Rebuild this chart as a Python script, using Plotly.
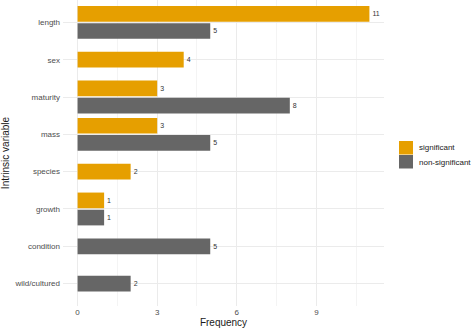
import plotly.graph_objects as go

categories = ["length", "sex", "maturity", "mass", "species", "growth", "condition", "wild/cultured"]
sig_values = [11, 4, 3, 3, 2, 1, None, None]
nonsig_values = [5, None, 8, 5, None, 1, 5, 2]
series_names = ["significant", "non-significant"]
x_ticks = [0, 3, 6, 9]

colors = ["#E69F00", "#666666"]
W = 0.42

# plot-area geometry in pixels (for paper-coordinate legend placement)
L, R, T, B = 63, 90, 0, 26
PW, PH = 474 - L - R, 332 - T - B


def build(vals, other, first):
    ys, xs, offs, txt = [], [], [], []
    for c, v, o in zip(categories, vals, other):
        if v is None:
            continue
        ys.append(c)
        xs.append(v)
        txt.append(str(v))
        if o is None:
            offs.append(-W / 2)
        else:
            offs.append(-W - 0.02 if first else 0.02)
    return ys, xs, offs, txt


fig = go.Figure()
for i, (vals, other) in enumerate([(sig_values, nonsig_values), (nonsig_values, sig_values)]):
    ys, xs, offs, txt = build(vals, other, i == 0)
    fig.add_trace(go.Bar(
        y=ys, x=xs, orientation="h", name=series_names[i],
        marker=dict(color=colors[i], line=dict(width=0)),
        width=[W] * len(xs), offset=offs,
        text=txt, textposition="outside", cliponaxis=False,
        textfont=dict(size=7, color="#333333", family="Liberation Sans, Arial"),
        showlegend=False,
    ))

# legend drawn ggplot-style (square keys stacked without gaps)
for i, name in enumerate(series_names):
    top = 141 + i * 14
    fig.add_shape(type="rect", xref="paper", yref="paper",
                  x0=(399 - L) / PW, x1=(413 - L) / PW,
                  y0=(PH - (top + 13.5)) / PH, y1=(PH - top) / PH,
                  fillcolor=colors[i], line=dict(width=0))
    fig.add_annotation(xref="paper", yref="paper", x=(417 - L) / PW, y=(PH - (top + 7)) / PH,
                       text=name, showarrow=False, xanchor="left", yanchor="middle",
                       font=dict(size=8, color="#1a1a1a"))

fig.update_layout(
    width=474, height=332,
    margin=dict(l=L, r=R, t=T, b=B, autoexpand=False),
    barmode="overlay",
    plot_bgcolor="white", paper_bgcolor="white",
    font=dict(family="Liberation Sans, Arial", size=8, color="#4d4d4d"),
    showlegend=False,
)
fig.update_xaxes(
    range=[-0.55, 11.55], tickvals=x_ticks, ticktext=[str(t) for t in x_ticks],
    showgrid=True, gridcolor="#ebebeb", gridwidth=1,
    minor=dict(tickvals=[1.5, 4.5, 7.5, 10.5], showgrid=True, gridcolor="#f4f4f4", gridwidth=0.6),
    zeroline=False, showline=False, ticks="",
    title=dict(text="Frequency", font=dict(size=10, color="#1a1a1a"), standoff=2),
    tickfont=dict(size=8, color="#4d4d4d"),
)
fig.update_yaxes(
    categoryorder="array", categoryarray=categories,
    range=[7.6, -0.6],
    showgrid=True, gridcolor="#ebebeb", gridwidth=1,
    zeroline=False, showline=False, ticks="",
    ticklabelstandoff=2,
    title=dict(text="Intrinsic variable", font=dict(size=10, color="#1a1a1a"), standoff=3),
    tickfont=dict(size=8, color="#4d4d4d"),
)

fig.write_html("out.html")
